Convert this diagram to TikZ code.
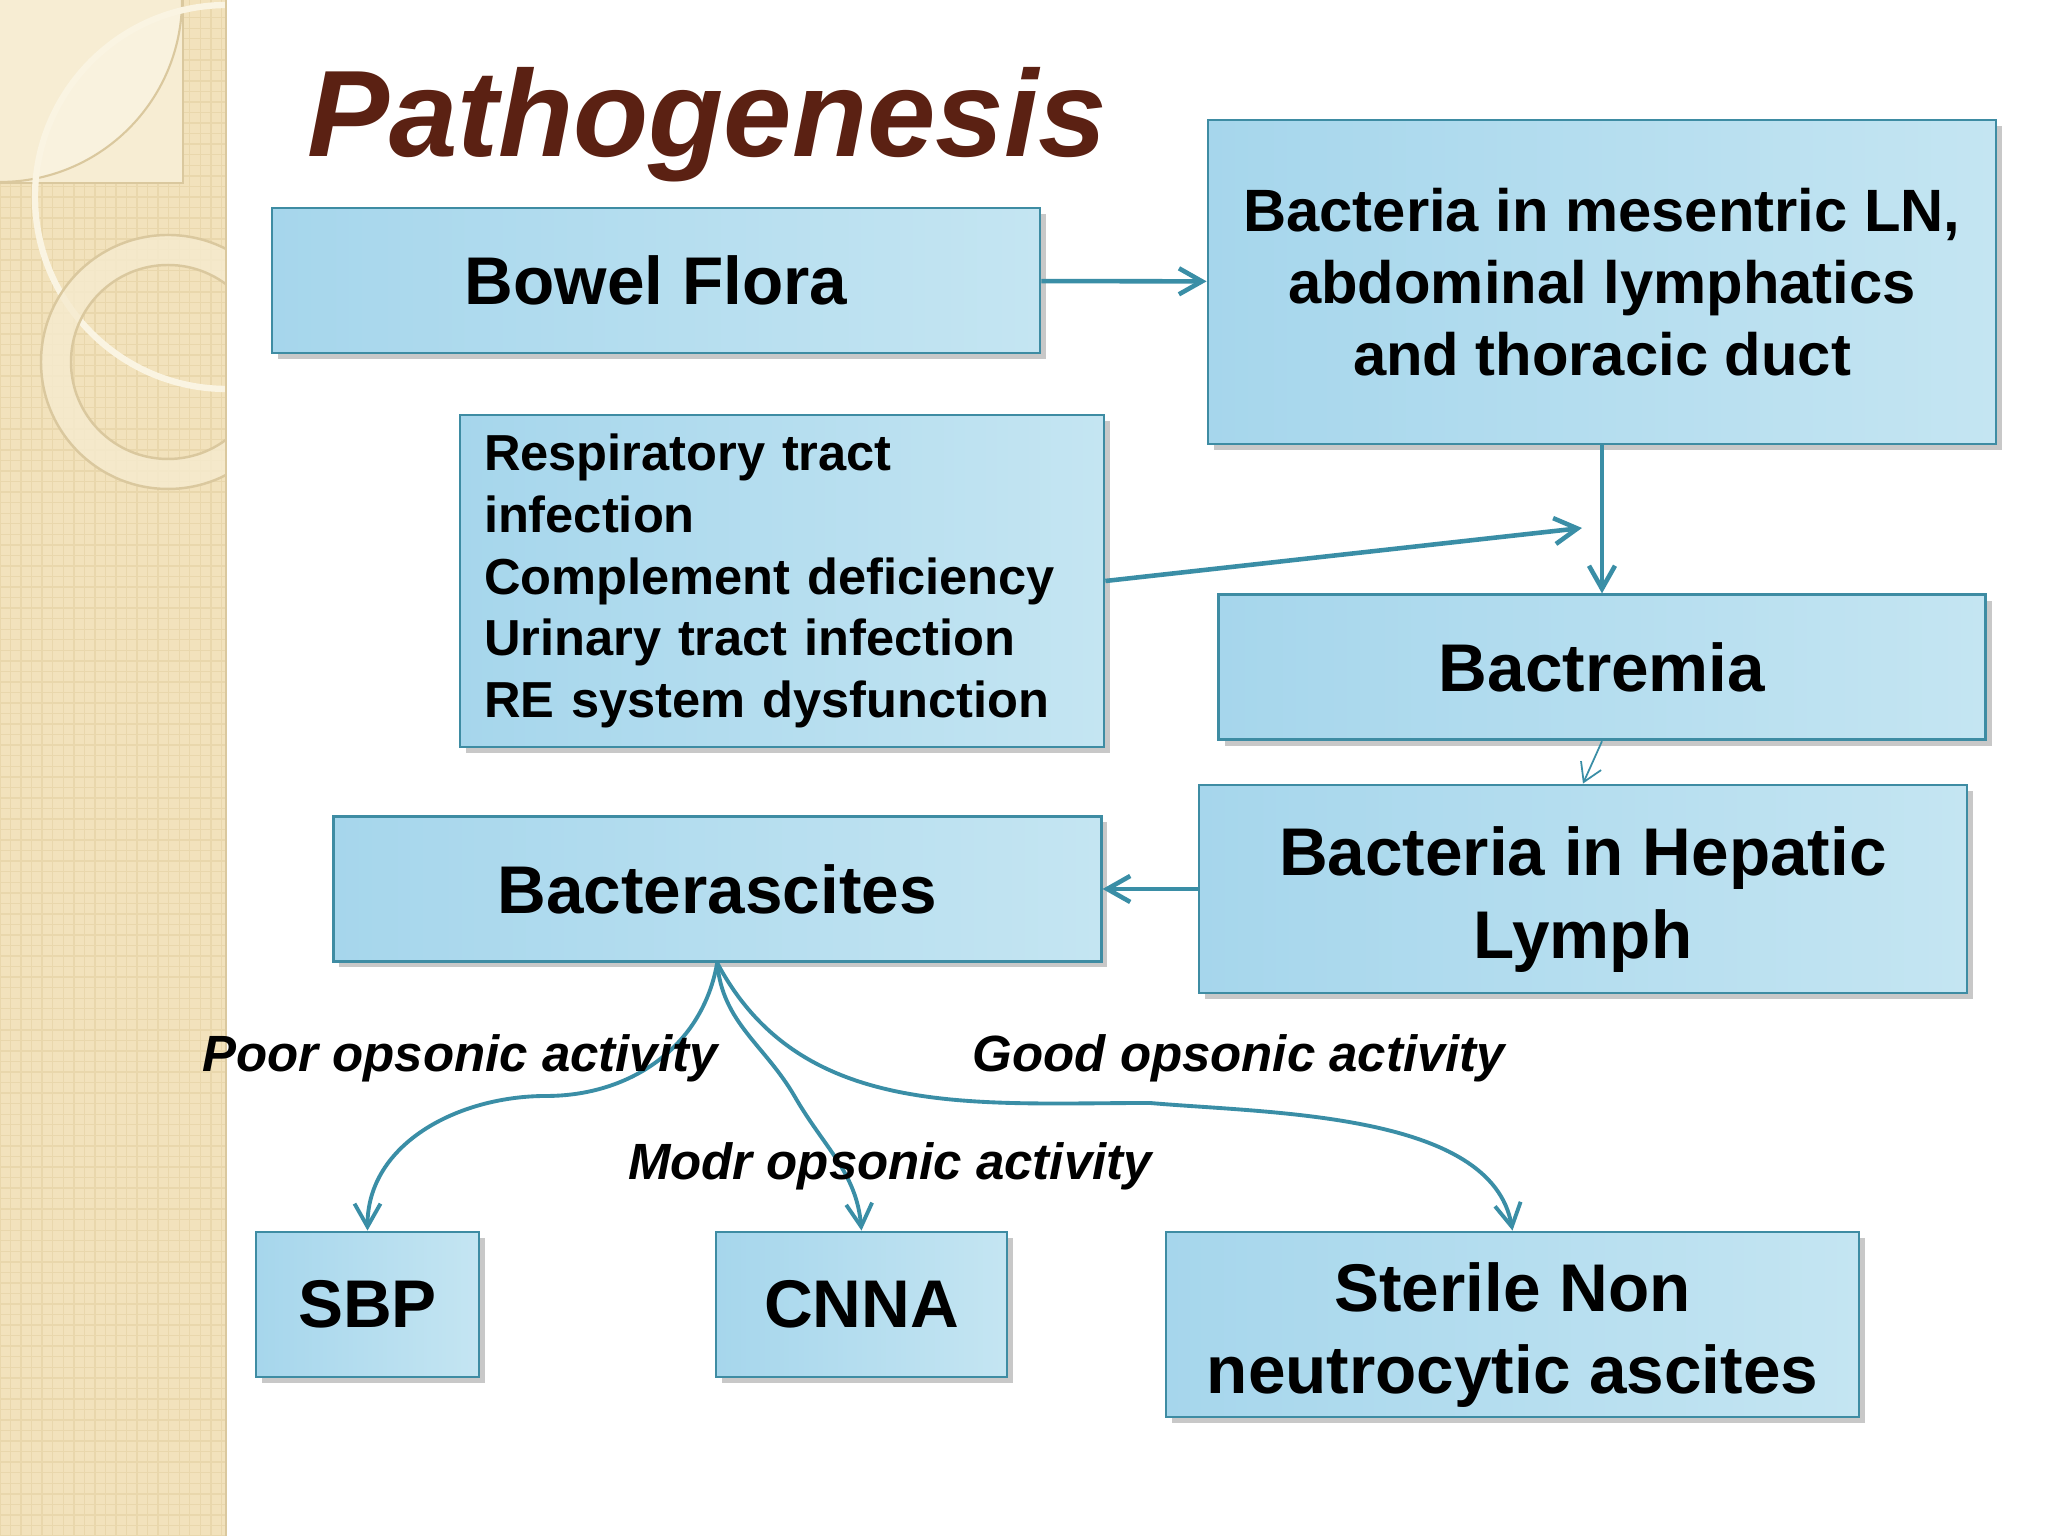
\documentclass[tikz,border=0pt]{standalone}
\usepackage{fontspec}
\setmainfont{Liberation Sans}
\usepackage{tikz}
\usetikzlibrary{arrows.meta,positioning,shadows,patterns}
\usepackage{xcolor}

\definecolor{slidebrown}{RGB}{91,33,19}
\definecolor{flowteal}{RGB}{58,142,166}
\definecolor{boxedge}{RGB}{62,140,163}
\definecolor{boxleft}{RGB}{166,214,236}
\definecolor{boxright}{RGB}{196,229,242}
\definecolor{stripbeige}{RGB}{242,226,188}
\definecolor{stripdot}{RGB}{233,215,172}
\definecolor{stripline}{RGB}{218,200,158}
\definecolor{stripcream}{RGB}{250,244,226}
\newcommand{\topgap}{\rule{0pt}{0.70cm}}

\begin{document}
\begin{tikzpicture}[
  node distance=1.48cm and 0.95cm,
  box/.style={draw=boxedge,line width=0.8pt,left color=boxleft,right color=boxright,
    align=center,inner sep=0pt,text=black,
    drop shadow={shadow xshift=0.6mm,shadow yshift=-0.6mm,opacity=0.3,fill=black!70},
    font=\fontsize{19.2}{23.6}\selectfont\bfseries},
  wide/.style={box,minimum width=7.68cm,minimum height=1.45cm},
  small/.style={box,minimum height=1.45cm},
  listbox/.style={box,align=left,text width=5.96cm,inner xsep=0.24cm,inner ysep=0.05cm,minimum height=3.32cm,
    font=\fontsize{14.4}{17.6}\selectfont\bfseries},
  opsonic/.style={font=\fontsize{14.5}{17}\selectfont\bfseries\itshape,anchor=base},
  arrow/.style={draw=flowteal,line width=1.3pt,-{Straight Barb[length=2.3mm,width=2.6mm]}},
  thinarrow/.style={draw=flowteal,line width=0.5pt,-{Straight Barb[length=1.8mm,width=2.2mm]}},
  curvearrow/.style={draw=flowteal,line width=1.1pt,-{Straight Barb[length=2.3mm,width=2.6mm]}}
]
\useasboundingbox (0,0) rectangle (20.48,15.36);
\fill[white] (0,0) rectangle (20.48,15.36);

\fill[stripbeige] (0,0) rectangle (2.26,15.36);
\fill[pattern=grid,pattern color=stripdot] (0,0) rectangle (2.26,15.36);
\begin{scope}
  \clip (0,0) rectangle (2.26,15.36);
  \fill[stripcream!60!stripbeige,draw=stripline] (-0.1,15.46) rectangle (1.83,13.53);
  \begin{scope}
    \clip (0,15.36) circle (1.82);
    \fill[stripcream!90!stripbeige] (2.27,13.39) circle (1.92);
  \end{scope}
  \draw[stripline,line width=0.6pt] (0,15.36) circle (1.82);
  \draw[stripcream,line width=1.8pt] (2.27,13.39) circle (1.92);
  \draw[stripline,fill=stripcream!50!stripbeige,fill opacity=0.8,even odd rule,line width=0.7pt]
    (1.68,11.74) circle (1.27) (1.68,11.74) circle (0.97);
\end{scope}
\draw[stripline,line width=0.8pt] (2.26,0) -- (2.26,15.36);

\node[font=\fontsize{35}{40}\selectfont\bfseries\itshape,text=slidebrown,anchor=base] (heading) at (7.07,13.79) {Pathogenesis};

\node[wide] (bowel) at (6.56,12.555) {Bowel Flora};
\node[box,minimum width=7.88cm,minimum height=3.24cm,font=\fontsize{17}{20.5}\selectfont\bfseries] (lymphatics) at (16.02,12.54) {Bacteria in mesentric LN,\\abdominal lymphatics\\and thoracic duct};
\node[listbox] (risks) at (7.82,9.55) {Respiratory tract\\infection\\Complement deficiency\\Urinary tract infection\\RE system dysfunction};
\node[wide,minimum width=7.67cm,below=of lymphatics] (bactremia) {Bactremia};
\node[wide,minimum height=2.08cm] (hepatic) at (15.83,6.47) {\topgap Bacteria in Hepatic\\Lymph};
\node[wide,left=of hepatic] (ascites) {Bacterascites};

\node[small,minimum width=2.23cm] (sbp) at (3.675,2.315) {SBP};
\node[small,minimum width=2.91cm] (cnna) at (8.615,2.315) {CNNA};
\node[box,minimum width=6.93cm,minimum height=1.85cm] (sterile) at (15.125,2.115) {\topgap Sterile Non\\neutrocytic ascites};

\coordinate (meet) at (15.82,10.08);
\coordinate (poorbend) at (5.46,4.40);
\coordinate (modrbend) at (7.95,4.39);
\coordinate (goodbend) at (11.5,4.33);

\draw[arrow] (bowel) -- (lymphatics);
\draw[arrow] (lymphatics) -- (bactremia);
\draw[arrow] (risks.east) -- (meet);
\draw[thinarrow] (bactremia.south) -- (hepatic.north);
\draw[arrow] (hepatic) -- (ascites);
\draw[curvearrow] (ascites.south) to[out=-100,in=0] (poorbend) to[out=180,in=90] (sbp.north);
\draw[curvearrow] (ascites.south) to[out=-85,in=120] (modrbend) to[out=-60,in=95] (cnna.north);
\draw[curvearrow] (ascites.south) to[out=-62,in=180] (goodbend) to[out=-5,in=100,looseness=0.8] (sterile.north);

\node[opsonic] (poor) at (4.60,4.64) {Poor opsonic activity};
\node[opsonic] (good) at (12.39,4.64) {Good opsonic activity};
\node[opsonic] (modr) at (8.90,3.56) {Modr opsonic activity};
\end{tikzpicture}
\end{document}
